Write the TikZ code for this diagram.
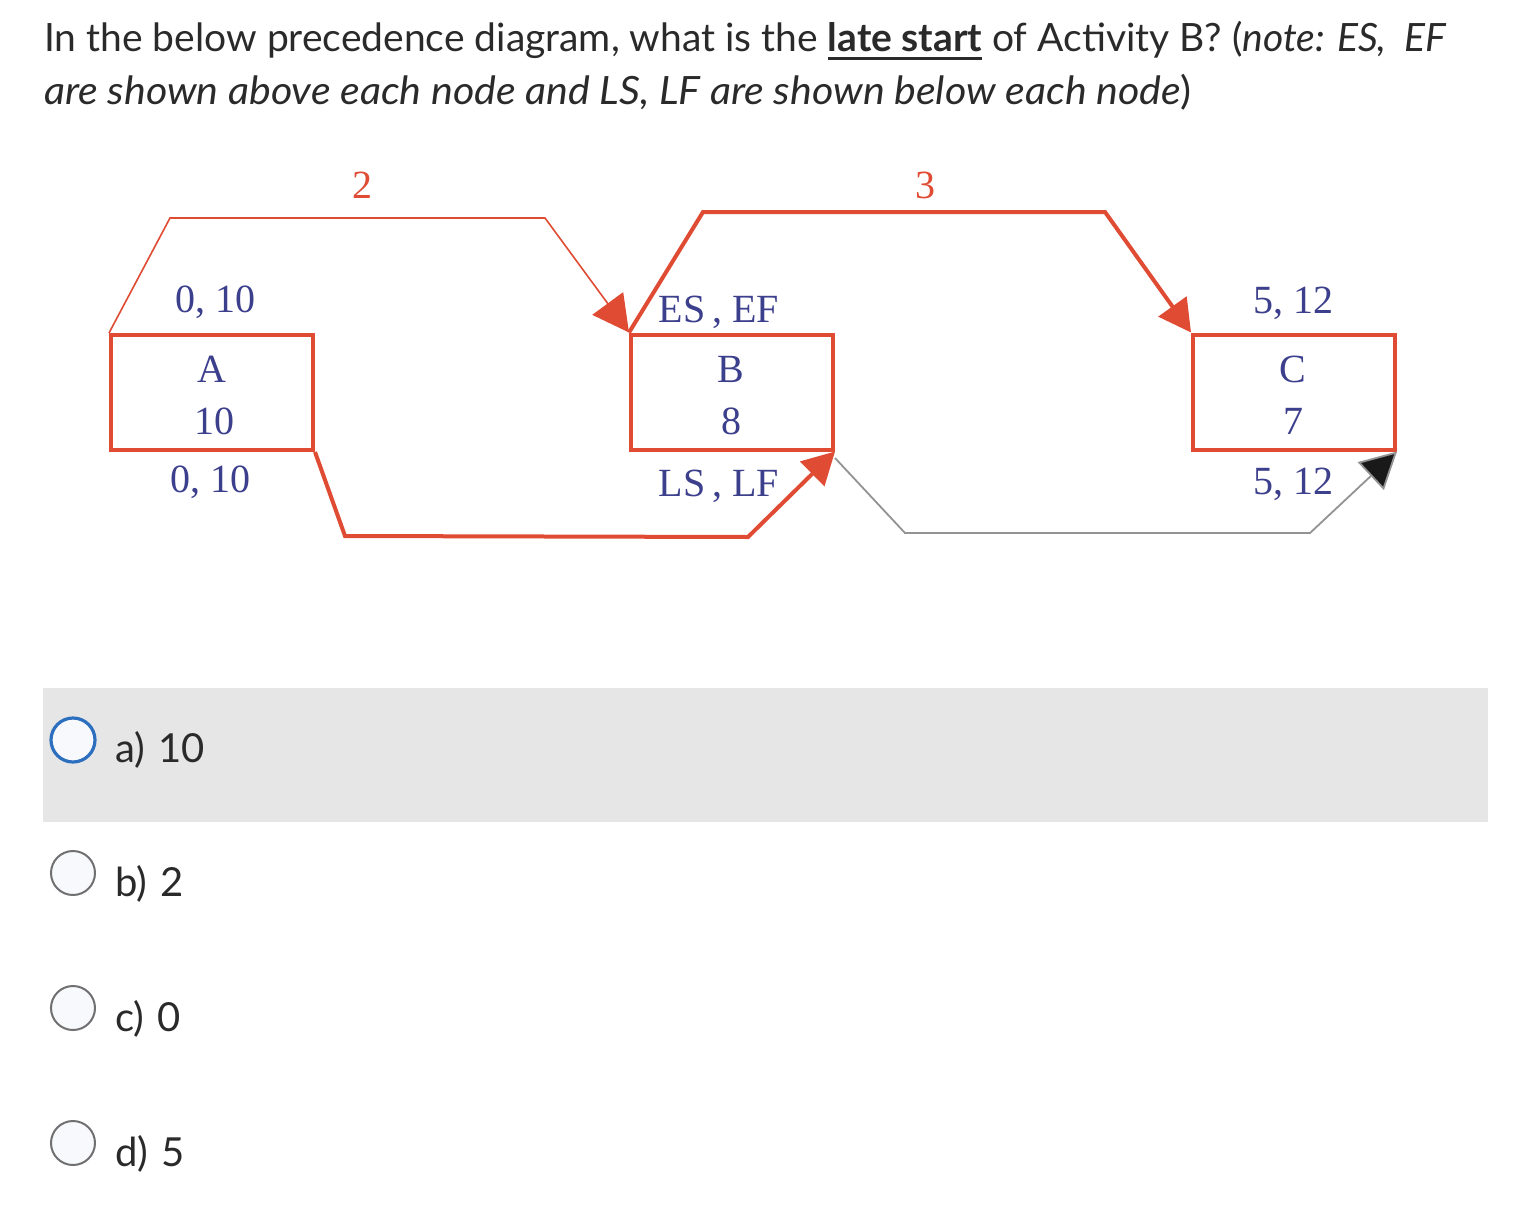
\documentclass[tikz,border=0pt]{standalone}
\usepackage{fontspec}
\setmainfont{Lato}
\newfontfamily\serifdiag{Liberation Serif}
\newcommand\thickul[1]{\setbox0\hbox{#1}\makebox[0pt][l]{\rule[-8pt]{\wd0}{2.8pt}}\box0\relax}
\usetikzlibrary{arrows.meta,calc}
\definecolor{pred}{HTML}{E04B33}
\definecolor{pblue}{HTML}{3C3F8C}
\definecolor{ptext}{HTML}{2A2A2A}
\definecolor{pband}{HTML}{E6E6E6}
\definecolor{pradio}{HTML}{2D6FBF}
\definecolor{pgrayr}{HTML}{707070}
\definecolor{pfill}{HTML}{F8F9FD}
\tikzset{
  actbox/.style={draw=pred, line width=4pt, minimum width=202pt, minimum height=115pt, inner sep=0pt},
  dtext/.style={text=pblue, font=\serifdiag\fontsize{40}{44}\selectfont, inner sep=0pt},
  lagtext/.style={text=pred, font=\serifdiag\fontsize{40}{44}\selectfont, inner sep=0pt},
  thinred/.style={draw=pred, line width=1.6pt, -{Triangle[length=36pt,width=38pt]}},
  thickred/.style={draw=pred, line width=4pt, -{Triangle[length=32pt,width=34pt]}},
  thingray/.style={draw=gray!85, line width=1.8pt, -{Triangle[length=36pt,width=38pt,fill=black!90]}},
  titletext/.style={text=ptext, font=\fontsize{39}{44}\selectfont, inner sep=0pt, anchor=base west},
  opttext/.style={text=ptext, font=\fontsize{40}{44}\selectfont, inner sep=0pt, anchor=base west},
  radio/.style={circle, minimum size=44pt, inner sep=0pt, fill=pfill},
}
\begin{document}
\begin{tikzpicture}[x=1pt,y=-1pt]
\useasboundingbox (0,0) rectangle (1538,1204);
\fill[white] (0,0) rectangle (1538,1204);
% title
\node[titletext] (t1) at (44,52) {In the below precedence diagram, what is the \thickul{\textbf{late start}} of Activity B? (\textit{note: ES,\ \ EF}};
\node[titletext] (t2) at (44,105) {\scalebox{1.055}[1]{\textit{are shown above each node and LS, LF are shown below each node})}};
% boxes
\node[actbox] (A) at (212,392.5) {};
\node[actbox] (B) at (732,392) {};
\node[actbox] (C) at (1294,392) {};
% box texts
\node[dtext, anchor=base] (Aes) at (215,312) {0, 10};
\node[dtext, anchor=base] (An) at (212,382) {A};
\node[dtext, anchor=base] (Ad) at (214,434) {10};
\node[dtext, anchor=base] (Als) at (210,492) {0, 10};
\node[dtext, anchor=base] (Bes) at (719,322) {ES\,, EF};
\node[dtext, anchor=base] (Bn) at (731,382) {B};
\node[dtext, anchor=base] (Bd) at (731,434) {8};
\node[dtext, anchor=base] (Bls) at (719,496) {LS\,, LF};
\node[dtext, anchor=base] (Ces) at (1293,313) {5, 12};
\node[dtext, anchor=base] (Cn) at (1293,382) {C};
\node[dtext, anchor=base] (Cd) at (1293,434) {7};
\node[dtext, anchor=base] (Cls) at (1293,494) {5, 12};
% connectors
\coordinate (p1) at (170,218);
\coordinate (p2) at (545,218);
\draw[thinred] (A.north west) -- (p1) -- (p2) -- (B.north west);
\node[lagtext, anchor=base] (l2) at (362,198) {2};
\coordinate (q1) at (703,212);
\coordinate (q2) at (1105,212);
\draw[thickred] (B.north west) -- (q1) -- (q2) -- (C.north west);
\node[lagtext, anchor=base] (l3) at (925,198) {3};
\coordinate (r1) at (345,536);
\coordinate (r2) at (748,537);
\draw[thickred] (A.south east) -- (r1) -- (r2) -- (B.south east);
\coordinate (s0) at (835,458);
\coordinate (s1) at (905,533);
\coordinate (s2) at (1310,533);
\draw[thingray] (s0) -- (s1) -- (s2) -- (C.south east);
% options
\fill[pband] (43,688) rectangle (1488,822);
\node[radio, draw=pradio, line width=3.2pt] (ra) at (73,740) {};
\node[opttext] (oa) at (115,762) {a)\hspace{13pt}10};
\node[radio, draw=pgrayr, line width=2pt] (rb) at (73,873) {};
\node[opttext] (ob) at (115,896) {b)\hspace{13pt}2};
\node[radio, draw=pgrayr, line width=2pt] (rc) at (73,1008) {};
\node[opttext] (oc) at (115,1031) {c)\hspace{13pt}0};
\node[radio, draw=pgrayr, line width=2pt] (rd) at (73,1143) {};
\node[opttext] (od) at (115,1166) {d)\hspace{13pt}5};
\end{tikzpicture}
\end{document}
